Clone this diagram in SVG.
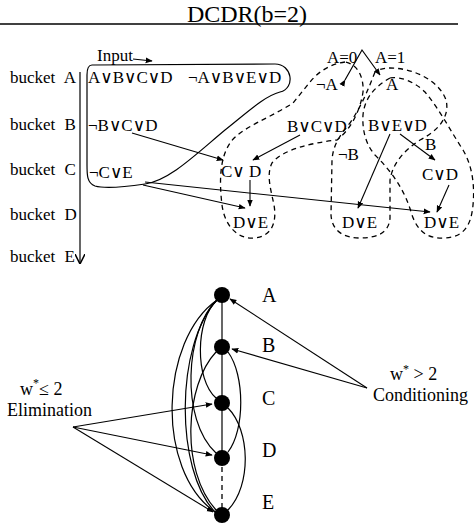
<svg xmlns="http://www.w3.org/2000/svg" width="474" height="523" viewBox="0 0 474 523">
<defs>
<marker id="ah" viewBox="0 0 10 10" refX="9" refY="5" markerWidth="7" markerHeight="7" orient="auto" markerUnits="userSpaceOnUse">
<path d="M0,1 L10,5 L0,9 Z" fill="#000"/>
</marker>
<marker id="ahb" viewBox="0 0 10 10" refX="9" refY="5" markerWidth="10" markerHeight="10" orient="auto" markerUnits="userSpaceOnUse">
<path d="M0,0 L10,5 L0,10" fill="none" stroke="#000" stroke-width="1.5"/>
</marker>
</defs>
<style>
text{font-family:"Liberation Serif","DejaVu Serif",serif;fill:#000}
.t{font-size:17px}
.v{font-size:20px}
.lab{font-size:17px}
.g{font-size:20px}
.s{fill:none;stroke:#000;stroke-width:1.2}
.d{fill:none;stroke:#000;stroke-width:1.3;stroke-dasharray:5,4}
.a{fill:none;stroke:#000;stroke-width:1.1;marker-end:url(#ah)}
.n{fill:#000}
</style>
<rect width="474" height="523" fill="#fff"/>
<text x="247" y="22" font-size="24" text-anchor="middle">DCDR(b=2)</text>
<line x1="0" y1="24" x2="458" y2="24" stroke="#000" stroke-width="1.5"/>

<g id="buckets">
<text class="lab" x="10" y="83" word-spacing="5">bucket A</text>
<text class="lab" x="10" y="130" word-spacing="5">bucket B</text>
<text class="lab" x="10" y="175" word-spacing="5">bucket C</text>
<text class="lab" x="10" y="220" word-spacing="5">bucket D</text>
<text class="lab" x="10" y="262" word-spacing="5">bucket E</text>
</g>

<g id="clauses">
<text class="t" x="88" y="83">A∨B∨C∨D</text>
<text class="t" x="188" y="83">¬A∨B∨E∨D</text>
<text class="t" x="88" y="131">¬B∨C∨D</text>
<text class="t" x="89" y="178">¬C∨E</text>
<text class="t" x="97" y="61" font-size="15">Input</text>
</g>

<g id="tree">
<text class="t" x="327" y="63" font-size="16">A=0</text>
<text class="t" x="375" y="63" font-size="16">A=1</text>
<text class="t" x="316" y="90">¬A</text>
<text class="t" x="386" y="90">A</text>
<text class="t" x="287" y="132">B∨C∨D</text>
<text class="t" x="368" y="131">B∨E∨D</text>
<text class="t" x="338" y="160">¬B</text>
<text class="t" x="425" y="150">B</text>
<text class="t" x="221" y="177">C∨ D</text>
<text class="t" x="422" y="180">C∨D</text>
<text class="t" x="233" y="228">D∨E</text>
<text class="t" x="342" y="228">D∨E</text>
<text class="t" x="424" y="228">D∨E</text>
</g>

<g id="outlines">
<path class="s" d="M92,65 L275,64 C292,64 296,88 280,92 C265,96 250,110 225,130 C195,155 170,180 145,184 C125,187 105,189 95,186 C87,183 87,175 87,165 L87,75 C87,68 89,65 92,65 Z"/>
<path class="d" d="M345,62 C330,64 318,72 310,82 L293,103 C270,118 240,128 230,143 C220,158 219,180 222,205 C225,228 240,240 255,238 C272,236 277,222 274,205 C271,190 266,175 272,163 C282,150 310,143 337,140 C350,130 360,112 363,92 C364,78 358,64 345,62 Z"/>
<path class="d" d="M375,72 C368,90 362,105 350,123 C340,135 333,145 332,160 L331,215 C332,232 345,238 360,238 C375,238 389,234 390,218 L390,180 C393,162 405,150 420,140 C440,130 450,115 446,100 C440,82 415,68 390,68 C382,68 377,70 375,72 Z"/>
<path class="d" d="M390,78 C378,85 365,95 363,115 C362,130 366,145 375,155 C392,172 405,190 412,215 C418,232 428,239 445,238 C462,237 471,228 473,205 C475,185 472,165 463,150 C450,130 440,110 425,92 C415,82 400,76 390,78 Z"/>
</g>

<g id="connectors">
<line class="s" x1="80" y1="72" x2="80" y2="263" marker-end="url(#ahb)"/>
<line class="a" x1="133" y1="59" x2="152" y2="61"/>
<polyline class="s" points="345,80 362,50 380,75" marker-start="url(#ah)" marker-end="url(#ah)"/>
<line class="a" x1="132" y1="133" x2="223" y2="160"/>
<line class="a" x1="300" y1="135" x2="253" y2="160"/>
<line class="a" x1="250" y1="180" x2="250" y2="206"/>
<line class="a" x1="143" y1="185" x2="245" y2="208"/>
<line class="a" x1="145" y1="182" x2="430" y2="212"/>
<line class="a" x1="390" y1="134" x2="358" y2="208"/>
<line class="a" x1="400" y1="134" x2="435" y2="160"/>
<line class="a" x1="449" y1="185" x2="437" y2="212"/>

<line class="s" x1="222" y1="295" x2="222" y2="458"/>
<line class="d" x1="222" y1="458" x2="222" y2="515" stroke-dasharray="5,4"/>
<path class="s" d="M217,300 C160,340 155,470 215,512"/>
<path class="s" d="M217,300 C175,345 175,470 215,512"/>
<path class="s" d="M217,300 C185,330 180,420 216,453"/>
<path class="s" d="M217,300 C195,320 195,380 216,398"/>
<path class="s" d="M216,352 C185,385 180,470 216,510"/>
<path class="s" d="M228,352 C245,375 245,430 228,452"/>
<path class="s" d="M228,408 C250,430 252,485 228,510"/>

<line class="a" x1="367" y1="388" x2="230" y2="299"/>
<line class="a" x1="367" y1="388" x2="232" y2="349"/>
<line class="a" x1="73" y1="427" x2="212" y2="404"/>
<line class="a" x1="73" y1="427" x2="212" y2="455"/>
<line class="a" x1="73" y1="427" x2="213" y2="512"/>
</g>

<g id="nodeA"><circle class="n" cx="222" cy="295" r="8"/><text class="g" x="262" y="302">A</text></g>
<g id="nodeB"><circle class="n" cx="222" cy="347" r="8"/><text class="g" x="262" y="352">B</text></g>
<g id="nodeC"><circle class="n" cx="222" cy="403" r="8"/><text class="g" x="262" y="405">C</text></g>
<g id="nodeD"><circle class="n" cx="222" cy="458" r="8"/><text class="g" x="262" y="457">D</text></g>
<g id="nodeE"><circle class="n" cx="222" cy="515" r="8"/><text class="g" x="262" y="509">E</text></g>

<g id="legend">
<text x="390" y="380" font-size="18">w<tspan font-size="12" dy="-7">*</tspan><tspan dy="7"> &gt; 2</tspan></text>
<text x="373" y="401" font-size="18">Conditioning</text>
<text x="20" y="395" font-size="18">w<tspan font-size="12" dy="-8">*</tspan><tspan dy="8">≤ 2</tspan></text>
<text x="7" y="416" font-size="18">Elimination</text>
</g>
</svg>
